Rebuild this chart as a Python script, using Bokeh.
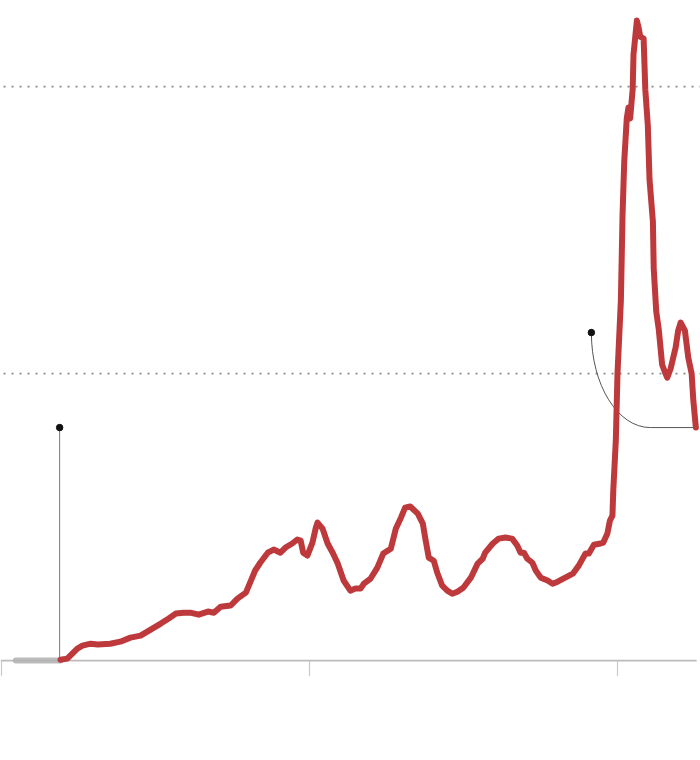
from bokeh.plotting import figure
from bokeh.embed import file_html
from bokeh.resources import INLINE
from bokeh.models import GlobalInlineStyleSheet

# Days since 2020-01-01 and daily values (arbitrary units; gridlines at 100 and 200)
pre_days = [17, 70]
pre_vals = [0, 0]

days = [70, 78, 90, 96, 106, 114, 129, 141, 153, 165, 177, 189, 198, 207, 216, 224,
        234, 245, 252, 260, 272, 280, 290, 296, 301, 307, 316, 323, 331, 337, 345, 351,
        355, 358, 363, 369, 373, 375, 381, 387, 393, 399, 406, 414, 420, 426, 430, 438,
        446, 453, 462, 468, 474, 479, 485, 494, 500, 503, 507, 513, 517, 523, 529, 535,
        541, 548, 557, 565, 571, 574, 583, 590, 598, 606, 612, 616, 620, 624, 630, 634,
        640, 648, 654, 660, 669, 678, 685, 693, 697, 703, 711, 714, 719, 722, 725, 726,
        729, 731, 735, 737, 739, 742, 744, 746, 749, 750, 754, 756, 758, 762, 764, 767,
        769, 773, 774, 777, 780, 784, 788, 790, 794, 800, 803, 806, 811, 815, 819, 821, 824]
vals = [0.3, 0.7, 4.2, 5.2, 5.9, 5.6, 5.9, 6.6, 8.0, 8.7, 10.8, 12.9, 14.6, 16.4, 16.7, 16.7,
        16.0, 17.1, 16.7, 18.8, 19.2, 21.6, 23.7, 27.9, 31.4, 34.1, 37.6, 38.7, 37.6, 39.4, 40.8, 42.2,
        41.8, 37.6, 36.6, 41.1, 46.3, 48.1, 46.0, 40.8, 37.6, 33.8, 27.9, 24.4, 25.1, 25.1, 26.8, 28.6,
        32.4, 37.3, 39.0, 46.0, 49.8, 53.3, 53.7, 51.2, 47.7, 42.5, 35.9, 34.8, 30.7, 26.1, 24.4, 23.3,
        24.0, 25.4, 28.9, 33.8, 35.5, 37.6, 40.8, 42.5, 42.9, 42.5, 40.1, 37.6, 37.6, 35.5, 34.1, 31.4,
        28.9, 27.9, 26.8, 27.5, 28.9, 30.3, 33.1, 37.3, 37.3, 40.4, 40.8, 41.1, 44.3, 48.8, 50.5, 59.2,
        76.7, 100.0, 125.4, 155.4, 173.9, 188.9, 192.7, 188.9, 199.0, 211.2, 223.0, 220.6, 217.4, 216.7, 199.0, 186.4,
        167.6, 153.0, 136.6, 121.6, 115.3, 103.1, 100.0, 98.6, 101.7, 109.1, 115.0, 117.8, 115.0, 105.6, 100.0, 90.6, 81.2]

grid_vals = [100, 200]
tick_days = [0, 365.5, 731]

# annotation anchors (data units)
ann1_day, ann1_val = 69, 81.2
ann2_day, ann2_val = 700, 114.3
ann2_end_day, ann2_end_val = 824, 81.2
ann2_corner_day = 770

x0, x1 = -1.19, 829.5
y0, y1 = -34.8, 230.0

p = figure(width=700, height=760, x_range=(x0, x1), y_range=(y0, y1),
           output_backend="svg", toolbar_location=None,
           min_border=0, min_border_left=0, min_border_right=0,
           min_border_top=0, min_border_bottom=0)
p.axis.visible = False
p.grid.visible = False
p.outline_line_color = None
p.background_fill_color = "white"
p.border_fill_color = "white"
p.stylesheets = [GlobalInlineStyleSheet(css="html, body { margin: 0 !important; padding: 0 !important; overflow: hidden; }")]

# dotted gridlines
for g in grid_vals:
    p.line([2.4, x1], [g, g], line_color="#8a8a8a", line_width=1.6, line_dash="2 6")

# baseline and ticks
p.line([x0, 825], [0, 0], line_color="#bbbbbb", line_width=1.6)
p.segment(x0=tick_days, y0=[0] * 3, x1=tick_days, y1=[-5.3] * 3,
          line_color="#c8c8c8", line_width=1.2)

# annotations
p.segment(x0=[ann1_day], y0=[0], x1=[ann1_day], y1=[ann1_val], line_color="#777777", line_width=1)
p.scatter([ann1_day], [ann1_val], size=6.5, color="#111111")

k = 0.5523
p.bezier(x0=[ann2_day], y0=[ann2_val], x1=[ann2_corner_day], y1=[ann2_end_val],
         cx0=[ann2_day], cy0=[ann2_val - k * (ann2_val - ann2_end_val)],
         cx1=[ann2_corner_day - k * (ann2_corner_day - ann2_day)], cy1=[ann2_end_val],
         line_color="#555555", line_width=1)
p.line([ann2_corner_day, ann2_end_day], [ann2_end_val, ann2_end_val], line_color="#555555", line_width=1)
p.scatter([ann2_day], [ann2_val], size=6.5, color="#111111")

# series
p.line(pre_days, pre_vals, line_color="#b4b4b4", line_width=6, line_cap="round", line_alpha=0.9)
p.line(days, vals, line_color="#be393b", line_width=6, line_join="round", line_cap="round")

open("out.html", "w").write(file_html(p, INLINE))
